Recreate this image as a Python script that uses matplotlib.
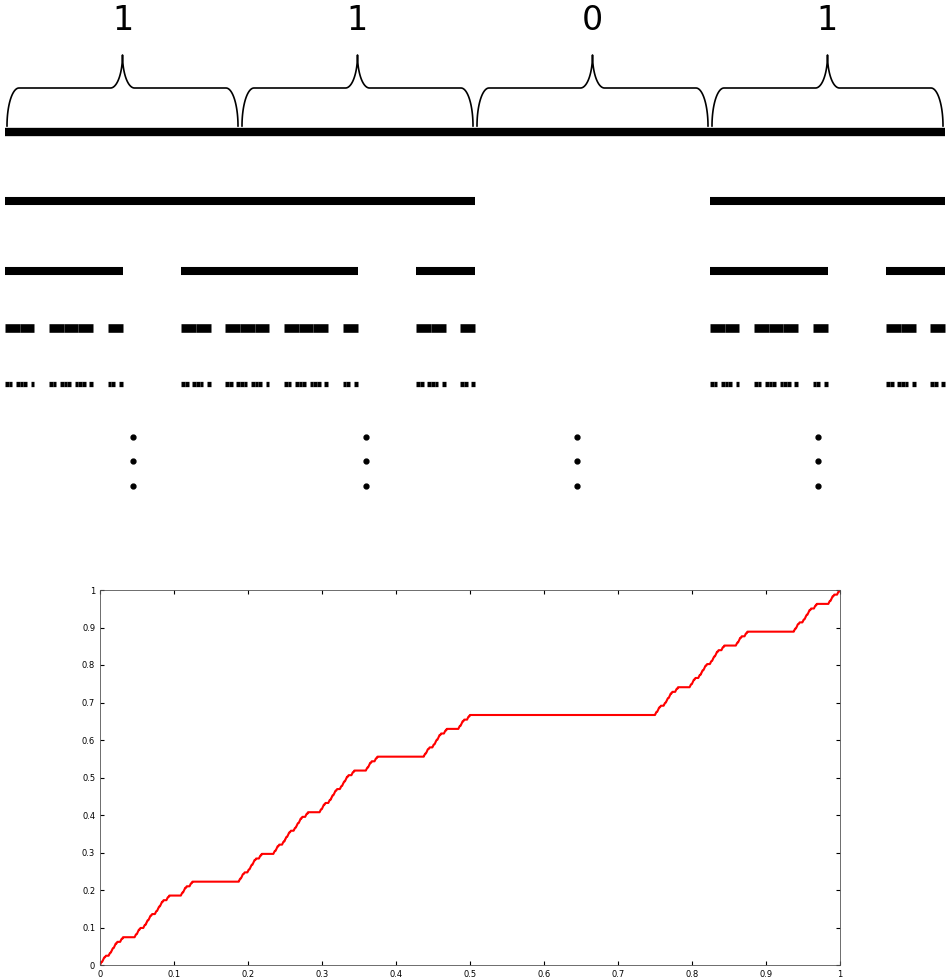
import numpy as np
import matplotlib
matplotlib.use("Agg")
import matplotlib.pyplot as plt

pattern = [1, 1, 0, 1]          # kept (1) / removed (0) quarter
digit_labels = ["1", "1", "0", "1"]
levels = [0, 1, 2, 3, 4]
level_y = [132, 201, 271, 328, 384]
level_lw = [6.0, 5.8, 5.8, 6.2, 3.8]
dot_x = [133, 366, 577, 818]
dot_y = [437, 461, 486]

W, H = 950, 980
fig = plt.figure(figsize=(9.5, 9.8), dpi=100)
top = fig.add_axes([0, 0, 1, 1])
top.set_xlim(0, W); top.set_ylim(H, 0); top.axis("off")

X0, X1 = 5, 945
def px(t): return X0 + (X1 - X0) * t

def kept(level):
    segs = [(0.0, 1.0)]
    for _ in range(level):
        new = []
        for a, b in segs:
            w = (b - a) / 4
            for i, k in enumerate(pattern):
                if k:
                    new.append((a + i * w, a + (i + 1) * w))
        segs = new
    return segs

for lv, y, lw in zip(levels, level_y, level_lw):
    for a, b in kept(lv):
        top.plot([px(a), px(b)], [y, y], color="black", lw=lw, solid_capstyle="butt")

def brace(xa, xb, yb=126, yh=88, yp=55, r=12):
    m = (xa + xb) / 2
    th = np.linspace(0, np.pi / 2, 30)
    # left end curl
    lx1 = xa + r * (1 - np.cos(th)); ly1 = yb - (yb - yh) * np.sin(th)
    # middle curls
    mx1 = m - r + r * np.sin(th); my1 = yh - (yh - yp) * (1 - np.cos(th))
    xs = np.concatenate([lx1, mx1, (2 * m - mx1)[::-1], (2 * m - lx1)[::-1]])
    ys = np.concatenate([ly1, my1, my1[::-1], ly1[::-1]])
    top.plot(xs, ys, color="black", lw=1.2)

for k, lab in enumerate(digit_labels):
    a, b = px(k / 4), px((k + 1) / 4)
    brace(a + 2, b - 2)
    top.text((a + b) / 2, 20, lab, fontsize=24, ha="center", va="center")

for x in dot_x:
    for y in dot_y:
        top.plot(x, y, "o", color="black", ms=3.5)

# devil's staircase from the same pattern
keep_idx = np.cumsum(pattern) - np.array(pattern)
nk = sum(pattern)
def F(x, depth=9):
    v, s = 0.0, 1.0
    for _ in range(depth):
        d = min(int(x * 4), 3)
        if pattern[d]:
            v += keep_idx[d] * s / nk
            x = x * 4 - d
            s /= nk
        else:
            v += keep_idx[d] * s / nk
            return v
    return v + s * x

xs = np.linspace(0, 1, 4001)
ys = np.array([F(x) for x in xs])
ax = fig.add_axes([100 / W, 15 / H, 740 / W, 375 / H])
ax.plot(xs, ys, color="red", lw=1.5)
ax.set_xlim(0, 1); ax.set_ylim(0, 1)
ax.set_xticks(np.arange(0, 1.01, 0.1)); ax.set_yticks(np.arange(0, 1.01, 0.1))
ax.set_xticklabels(["0", "0.1", "0.2", "0.3", "0.4", "0.5", "0.6", "0.7", "0.8", "0.9", "1"])
ax.set_yticklabels(["0", "0.1", "0.2", "0.3", "0.4", "0.5", "0.6", "0.7", "0.8", "0.9", "1"])
ax.tick_params(labelsize=6, length=3, direction="in", top=True, right=True)
for s in ax.spines.values(): s.set_color("#555555"); s.set_linewidth(0.6)
fig.savefig("out.png", dpi=100)
